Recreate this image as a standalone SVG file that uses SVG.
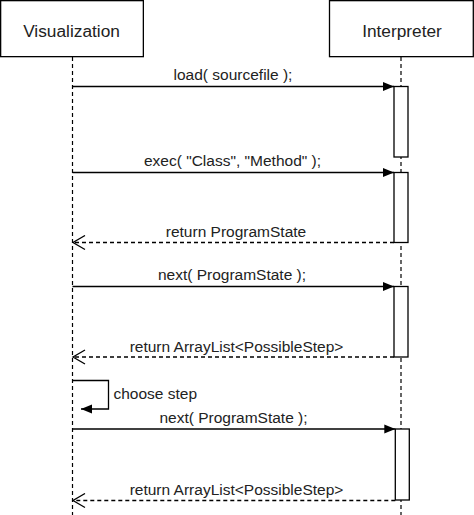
<svg xmlns="http://www.w3.org/2000/svg" width="474" height="515" viewBox="0 0 474 515">
<defs>
<style>
.box{fill:#fff;stroke:#000;stroke-width:1.3}
.act{fill:#fff;stroke:#000;stroke-width:1.3}
.life{stroke:#000;stroke-width:1.2;stroke-dasharray:4 3;fill:none}
.msg{stroke:#000;stroke-width:1.3;fill:none}
.ret{stroke:#000;stroke-width:1.3;fill:none;stroke-dasharray:4 3}
.hdr{font-family:"Liberation Sans",Arial,sans-serif;font-size:17.3px;fill:#222;text-anchor:middle}
.lbl{font-family:"Liberation Sans",Arial,sans-serif;font-size:15.5px;fill:#222;text-anchor:middle}
.lbls{font-family:"Liberation Sans",Arial,sans-serif;font-size:15.5px;fill:#222}
</style>
<marker id="fill" markerWidth="12" markerHeight="10" refX="11" refY="5" orient="auto" markerUnits="userSpaceOnUse">
<path d="M0,0.5 L11,5 L0,9.5 Z" fill="#000"/>
</marker>
<marker id="open" markerWidth="15" markerHeight="16" refX="13" refY="8" orient="auto" markerUnits="userSpaceOnUse">
<path d="M1,1 L13,8 L1,15" fill="none" stroke="#000" stroke-width="1.3"/>
</marker>
</defs>
<rect width="474" height="515" fill="#fff"/>
<g id="lifelines">
<line class="life" x1="72.5" y1="57" x2="72.5" y2="515"/>
<line class="life" x1="401" y1="57" x2="401" y2="515"/>
</g>
<g id="visualization">
<rect class="box" x="0.65" y="0.65" width="142.7" height="56"/>
<text class="hdr" x="71.5" y="36.5">Visualization</text>
</g>
<g id="interpreter">
<rect class="box" x="329.5" y="0.65" width="143.8" height="56"/>
<text class="hdr" x="402" y="36.5">Interpreter</text>
</g>
<g id="activations">
<rect class="act" x="394" y="86.5" width="14" height="70.5"/>
<rect class="act" x="394" y="172.5" width="14" height="70"/>
<rect class="act" x="394" y="286.5" width="14" height="70.5"/>
<rect class="act" x="395.3" y="429" width="14" height="71"/>
</g>
<g id="connectors">
<line class="msg" x1="72.5" y1="86.5" x2="394" y2="86.5" marker-end="url(#fill)"/>
<text class="lbl" x="233" y="79.5">load( sourcefile );</text>
<line class="msg" x1="72.5" y1="172.5" x2="394" y2="172.5" marker-end="url(#fill)"/>
<text class="lbl" x="232.5" y="165.5">exec( "Class", "Method" );</text>
<line class="ret" x1="394" y1="242.5" x2="73" y2="242.5" marker-end="url(#open)"/>
<text class="lbl" x="236" y="237">return ProgramState</text>
<line class="msg" x1="72.5" y1="286.5" x2="394" y2="286.5" marker-end="url(#fill)"/>
<text class="lbl" x="232" y="280">next( ProgramState );</text>
<line class="ret" x1="394" y1="357" x2="73" y2="357" marker-end="url(#open)"/>
<text class="lbl" x="236.5" y="351.5">return ArrayList&lt;PossibleStep&gt;</text>
<polyline class="msg" points="72.5,380.5 108.5,380.5 108.5,409 81,409" marker-end="url(#fill)"/>
<text class="lbls" x="113.5" y="398.5">choose step</text>
<line class="msg" x1="72.5" y1="429" x2="395.3" y2="429" marker-end="url(#fill)"/>
<text class="lbl" x="233.5" y="422.5">next( ProgramState );</text>
<line class="ret" x1="395.3" y1="500.5" x2="73" y2="500.5" marker-end="url(#open)"/>
<text class="lbl" x="236.5" y="494.5">return ArrayList&lt;PossibleStep&gt;</text>
</g>
</svg>
